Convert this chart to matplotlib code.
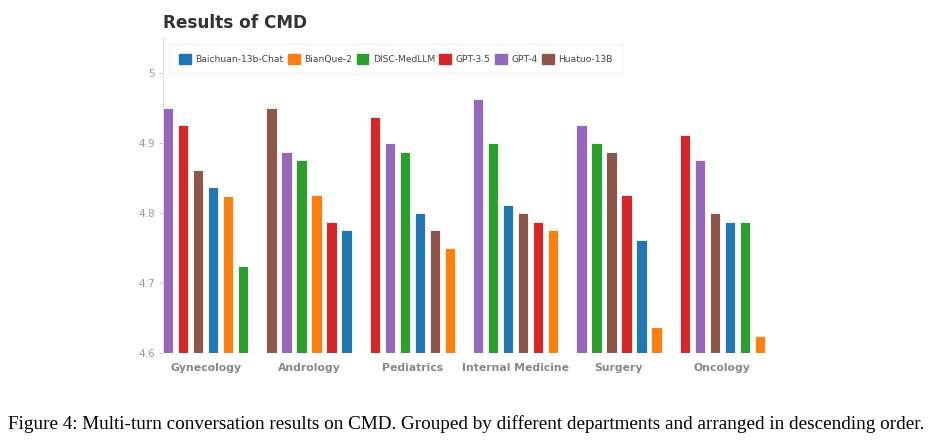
import matplotlib.pyplot as plt
import numpy as np

# departments (x groups) and models (series)
departments = ['Gynecology', 'Andrology', 'Pediatrics', 'Internal Medicine', 'Surgery', 'Oncology']
models = ['Baichuan-13b-Chat', 'BianQue-2', 'DISC-MedLLM', 'GPT-3.5', 'GPT-4', 'Huatuo-13B']

# scores per model, one value per department (same order as departments)
baichuan = [4.837, 4.775, 4.800, 4.812, 4.762, 4.787]
bianque = [4.824, 4.825, 4.750, 4.775, 4.637, 4.625]
disc = [4.724, 4.875, 4.887, 4.900, 4.900, 4.787]
gpt35 = [4.925, 4.787, 4.937, 4.787, 4.825, 4.912]
gpt4 = [4.950, 4.887, 4.900, 4.963, 4.925, 4.875]
huatuo = [4.862, 4.950, 4.775, 4.800, 4.887, 4.800]

scores = [baichuan, bianque, disc, gpt35, gpt4, huatuo]
colors = ['#1f77b4', '#ff7f0e', '#2ca02c', '#d62728', '#9467bd', '#8c564b']

fig = plt.figure(figsize=(9.38, 4.48), dpi=100)
ax = fig.add_axes([0.1738, 0.212, 0.653, 0.705])

group_pitch = 6.89
bar_w = 0.68
for g, dep in enumerate(departments):
    vals = np.array([s[g] for s in scores])
    order = np.argsort(-vals, kind='stable')  # descending, ties keep legend order
    for i, m in enumerate(order):
        x = g * group_pitch + i
        ax.bar(x, vals[m] - 4.6, bottom=4.6, width=bar_w, color=colors[m],
               edgecolor='white', linewidth=0.6, zorder=2)

# legend handles
handles = [plt.Rectangle((0, 0), 1, 1, color=c) for c in colors]
leg = ax.legend(handles, models, ncol=6, loc='upper left', bbox_to_anchor=(0.003, 0.993),
                fontsize=6.6, frameon=True, fancybox=False, handlelength=1.3, handleheight=1.3,
                handletextpad=0.5, columnspacing=0.45, borderpad=1.05, labelcolor='#444444')
leg.get_frame().set_edgecolor('#eeeeee')
leg.get_frame().set_linewidth(0.8)

ax.set_xlim(-0.35, 40.5)
ax.set_ylim(4.6, 5.051)
ax.set_yticks([4.6, 4.7, 4.8, 4.9, 5.0])
ax.set_yticklabels(['4.6', '4.7', '4.8', '4.9', '5'])
ax.set_xticks([g * group_pitch + 2.5 for g in range(len(departments))])
ax.set_xticklabels(departments, fontweight='bold', color='#888888', fontsize=7.8)
ax.tick_params(axis='x', length=0, pad=7)
ax.tick_params(axis='y', length=3, color='#cccccc', labelcolor='#999999', labelsize=7.5, pad=3)
for side in ['top', 'right', 'bottom']:
    ax.spines[side].set_visible(False)
ax.spines['left'].set_color('#dddddd')
ax.spines['left'].set_linewidth(0.8)

fig.text(0.1738, 0.948, 'Results of CMD', fontsize=12.2, fontweight='bold', color='#333333',
         ha='left', va='center')

fig.text(0.4965, 0.053, 'Figure 4: Multi-turn conversation results on CMD. Grouped by different '
         'departments and arranged in descending order.', family='Liberation Serif',
         fontsize=13.8, ha='center', va='center', color='black')

fig.savefig('out.png', dpi=100)
